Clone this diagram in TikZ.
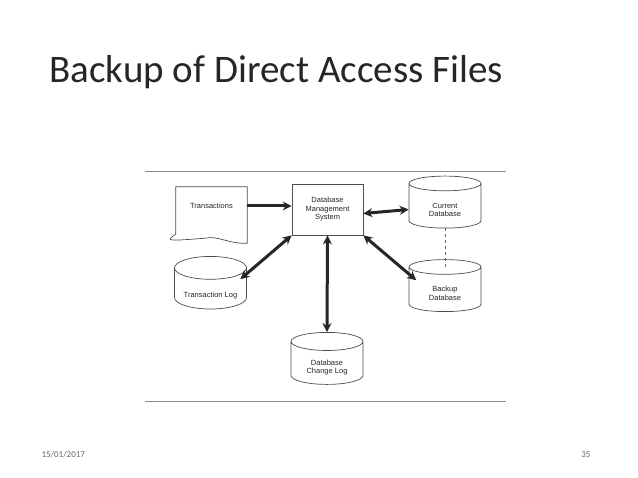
\documentclass[tikz,border=0pt]{standalone}
\usepackage{fontspec}
\setmainfont{Carlito}
\newfontfamily\diag{Liberation Sans}
\usetikzlibrary{shapes.geometric,arrows.meta}
\begin{document}
\begin{tikzpicture}[x=1pt,y=-1pt,
  lbl/.style={font=\diag\fontsize{7.5}{8.5}\selectfont,align=center,text=black!85},
  db/.style={lbl,cylinder,shape border rotate=90,draw=black!70,line width=0.7pt,minimum width=72pt,minimum height=52pt,aspect=0.38,fill=white},
  boxn/.style={lbl,draw=black!70,line width=0.7pt,minimum width=71pt,minimum height=51pt},
  conn/.style={line width=3pt,black!85,-{Stealth[length=9pt,width=9pt]}},
  dconn/.style={conn,{Stealth[length=9pt,width=9pt]}-{Stealth[length=9pt,width=9pt]}},
  rule/.style={draw=black!45,line width=1pt}]
\useasboundingbox (0,0) rectangle (638,478);
\node[anchor=west,font=\fontsize{39}{44}\selectfont,text=black!85] (title) at (46,72) {Backup of Direct Access Files};
\coordinate (r1a) at (145,172); \coordinate (r1b) at (506,172);
\coordinate (r2a) at (145,402); \coordinate (r2b) at (506,402);
\draw[rule] (r1a) -- (r1b);
\draw[rule] (r2a) -- (r2b);
\node[boxn] (dbms) at (327.5,209.5) {Database\\Management\\System};
\node[lbl,minimum width=71pt,minimum height=46pt] (tr) at (211.5,210) {};
\draw[black!70,line width=0.7pt] (tr.north west) -- (tr.north east) -- ([yshift=-10]tr.south east)
  .. controls ([xshift=-18,yshift=-11]tr.south east) and ([xshift=-30,yshift=-2]tr.south east) .. ([xshift=-42,yshift=-5]tr.south east)
  .. controls ([xshift=-10,yshift=-8]tr.south west) .. ([yshift=-1]tr.south west) -- cycle;
\node[lbl] (trt) at (211.5,206) {Transactions};
\node[db] (cur) at (445,207.5) {\\[2pt]Current\\Database};
\node[db] (bak) at (445,291) {\\[2pt]Backup\\Database};
\node[db] (tlog) at (210.5,291) {\\[6pt]Transaction Log};
\node[db] (clog) at (327,365) {\\[2pt]Database\\Change Log};
\draw[conn] (tr.east |- trt) -- (dbms.west |- trt);
\draw[dconn] ([yshift=-4]dbms.east) -- ([yshift=-2]cur.west);
\draw[dconn] (dbms.south west) -- ([yshift=-18]tlog.north east);
\draw[dconn] (dbms.south east) -- ([yshift=-18]bak.north west);
\draw[dconn] (dbms.south) -- (clog.north);
\draw[black!60,line width=0.8pt,dashed] (cur.bottom) -- ([yshift=-8]bak.top);
\node[anchor=west,font=\fontsize{9}{10}\selectfont,text=black!60] (date) at (38,455) {15/01/2017};
\node[anchor=east,font=\fontsize{9}{10}\selectfont,text=black!60] (num) at (594,455) {35};
\end{tikzpicture}
\end{document}
